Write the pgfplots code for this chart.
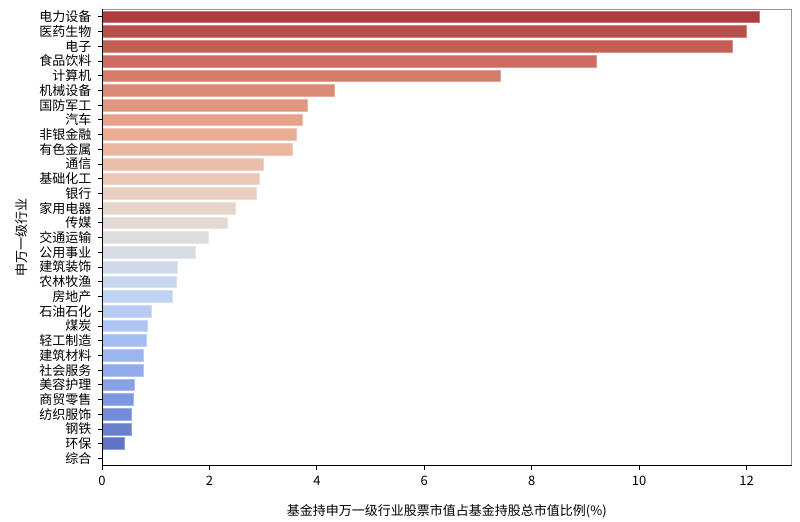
\documentclass[border=0pt]{standalone}
\usepackage{fontspec}
\setmainfont{Noto Sans CJK SC}
\usepackage{pgfplots}
\pgfplotsset{compat=1.18}

% coolwarm (reversed), softened
\definecolor{c0}{RGB}{173,59,64}
\definecolor{c1}{RGB}{185,79,74}
\definecolor{c2}{RGB}{195,95,84}
\definecolor{c3}{RGB}{204,109,95}
\definecolor{c4}{RGB}{211,124,106}
\definecolor{c5}{RGB}{219,137,116}
\definecolor{c6}{RGB}{225,150,127}
\definecolor{c7}{RGB}{229,161,138}
\definecolor{c8}{RGB}{233,172,149}
\definecolor{c9}{RGB}{235,182,160}
\definecolor{c10}{RGB}{236,191,171}
\definecolor{c11}{RGB}{236,199,181}
\definecolor{c12}{RGB}{234,206,191}
\definecolor{c13}{RGB}{231,212,202}
\definecolor{c14}{RGB}{227,217,212}
\definecolor{c15}{RGB}{221,221,221}
\definecolor{c16}{RGB}{215,220,228}
\definecolor{c17}{RGB}{208,218,234}
\definecolor{c18}{RGB}{200,215,238}
\definecolor{c19}{RGB}{192,210,241}
\definecolor{c20}{RGB}{184,204,243}
\definecolor{c21}{RGB}{175,198,244}
\definecolor{c22}{RGB}{165,190,242}
\definecolor{c23}{RGB}{155,181,240}
\definecolor{c24}{RGB}{145,171,236}
\definecolor{c25}{RGB}{135,161,231}
\definecolor{c26}{RGB}{125,150,224}
\definecolor{c27}{RGB}{115,139,217}
\definecolor{c28}{RGB}{104,127,208}
\definecolor{c29}{RGB}{94,115,198}
\definecolor{c30}{RGB}{85,102,187}

\begin{document}
\begin{tikzpicture}
\path[use as bounding box] (-102bp,-56.3bp) rectangle (698bp,465.7bp);
\begin{axis}[
  name=ax,
  at={(0,0)}, anchor=south west,
  scale only axis, width=689.7bp, height=456.2bp,
  xmin=0, xmax=12.84, ymin=-0.5, ymax=30.5, y dir=reverse,
  xtick={0,2,...,12}, ytick={0,...,30},
  yticklabels={电力设备,医药生物,电子,食品饮料,计算机,机械设备,国防军工,汽车,非银金融,有色金属,通信,基础化工,银行,家用电器,传媒,交通运输,公用事业,建筑装饰,农林牧渔,房地产,石油石化,煤炭,轻工制造,建筑材料,社会服务,美容护理,商贸零售,纺织服饰,钢铁,环保,综合},
  tick align=outside, xtick pos=bottom, ytick pos=left,
  major tick length=4bp,
  tick style={black, line width=0.8bp},
  axis line style={draw=none},
  font=\fontsize{13bp}{15bp}\selectfont,
  /pgf/number format/assume math mode=true,
  xticklabel style={yshift=-3bp},
  yticklabel style={xshift=-3bp},
  xlabel={基金持申万一级行业股票市值占基金持股总市值比例(\%)},
  xlabel style={yshift=-12bp},
  ylabel={申万一级行业},
  ylabel style={yshift=5bp},
  xbar, bar width=0.8,
]
\addplot[xbar, bar shift=0pt, fill=c0,  draw=c0!70!white,  line width=0.6bp] coordinates {(12.23,0)};
\addplot[xbar, bar shift=0pt, fill=c1,  draw=c1!70!white,  line width=0.6bp] coordinates {(12.00,1)};
\addplot[xbar, bar shift=0pt, fill=c2,  draw=c2!70!white,  line width=0.6bp] coordinates {(11.74,2)};
\addplot[xbar, bar shift=0pt, fill=c3,  draw=c3!70!white,  line width=0.6bp] coordinates {(9.21,3)};
\addplot[xbar, bar shift=0pt, fill=c4,  draw=c4!70!white,  line width=0.6bp] coordinates {(7.41,4)};
\addplot[xbar, bar shift=0pt, fill=c5,  draw=c5!70!white,  line width=0.6bp] coordinates {(4.33,5)};
\addplot[xbar, bar shift=0pt, fill=c6,  draw=c6!70!white,  line width=0.6bp] coordinates {(3.82,6)};
\addplot[xbar, bar shift=0pt, fill=c7,  draw=c7!70!white,  line width=0.6bp] coordinates {(3.72,7)};
\addplot[xbar, bar shift=0pt, fill=c8,  draw=c8!70!white,  line width=0.6bp] coordinates {(3.62,8)};
\addplot[xbar, bar shift=0pt, fill=c9,  draw=c9!70!white,  line width=0.6bp] coordinates {(3.55,9)};
\addplot[xbar, bar shift=0pt, fill=c10, draw=c10!70!white, line width=0.6bp] coordinates {(3.00,10)};
\addplot[xbar, bar shift=0pt, fill=c11, draw=c11!70!white, line width=0.6bp] coordinates {(2.92,11)};
\addplot[xbar, bar shift=0pt, fill=c12, draw=c12!70!white, line width=0.6bp] coordinates {(2.87,12)};
\addplot[xbar, bar shift=0pt, fill=c13, draw=c13!70!white, line width=0.6bp] coordinates {(2.49,13)};
\addplot[xbar, bar shift=0pt, fill=c14, draw=c14!70!white, line width=0.6bp] coordinates {(2.33,14)};
\addplot[xbar, bar shift=0pt, fill=c15, draw=c15!70!white, line width=0.6bp] coordinates {(1.97,15)};
\addplot[xbar, bar shift=0pt, fill=c16, draw=c16!70!white, line width=0.6bp] coordinates {(1.73,16)};
\addplot[xbar, bar shift=0pt, fill=c17, draw=c17!70!white, line width=0.6bp] coordinates {(1.40,17)};
\addplot[xbar, bar shift=0pt, fill=c18, draw=c18!70!white, line width=0.6bp] coordinates {(1.38,18)};
\addplot[xbar, bar shift=0pt, fill=c19, draw=c19!70!white, line width=0.6bp] coordinates {(1.30,19)};
\addplot[xbar, bar shift=0pt, fill=c20, draw=c20!70!white, line width=0.6bp] coordinates {(0.91,20)};
\addplot[xbar, bar shift=0pt, fill=c21, draw=c21!70!white, line width=0.6bp] coordinates {(0.84,21)};
\addplot[xbar, bar shift=0pt, fill=c22, draw=c22!70!white, line width=0.6bp] coordinates {(0.82,22)};
\addplot[xbar, bar shift=0pt, fill=c23, draw=c23!70!white, line width=0.6bp] coordinates {(0.77,23)};
\addplot[xbar, bar shift=0pt, fill=c24, draw=c24!70!white, line width=0.6bp] coordinates {(0.77,24)};
\addplot[xbar, bar shift=0pt, fill=c25, draw=c25!70!white, line width=0.6bp] coordinates {(0.60,25)};
\addplot[xbar, bar shift=0pt, fill=c26, draw=c26!70!white, line width=0.6bp] coordinates {(0.59,26)};
\addplot[xbar, bar shift=0pt, fill=c27, draw=c27!70!white, line width=0.6bp] coordinates {(0.54,27)};
\addplot[xbar, bar shift=0pt, fill=c28, draw=c28!70!white, line width=0.6bp] coordinates {(0.54,28)};
\addplot[xbar, bar shift=0pt, fill=c29, draw=c29!70!white, line width=0.6bp] coordinates {(0.42,29)};
\addplot[xbar, bar shift=0pt, fill=c30, draw=c30!70!white, line width=0.6bp] coordinates {(0.01,30)};
\end{axis}
% frame: dark left/bottom, grey top/right
\draw[gray!85, line width=1bp] (ax.north west) -- (ax.north east) -- (ax.south east);
\draw[black, line width=1bp] (ax.north west) -- (ax.south west) -- (ax.south east);
\end{tikzpicture}
\end{document}
